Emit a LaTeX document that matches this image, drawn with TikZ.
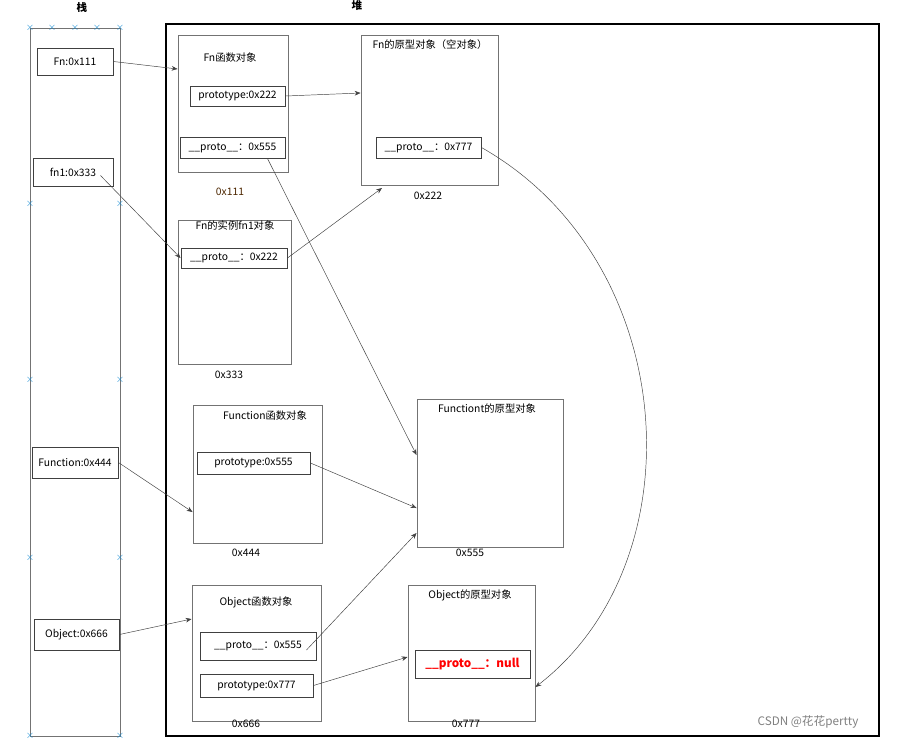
\documentclass[tikz,border=0pt]{standalone}
\usepackage{fontspec}
\setmainfont{Noto Sans CJK SC}
\usetikzlibrary{positioning}
\usetikzlibrary{arrows.meta}
\tikzset{
  field/.style={draw=black!75, thick, inner sep=0pt, font=\fontsize{8.8}{9}\selectfont},
  obj/.style={draw=black!55, thick, inner sep=0pt},
  lbl/.style={font=\fontsize{8.8}{9}\selectfont},
  link/.style={draw=black!75, -{Stealth[length=5pt,width=4pt]}},
  handle/.style={text=cyan!70!blue, font=\fontsize{9}{9}\selectfont}
}
\begin{document}
\begin{tikzpicture}[x=0.03cm,y=-0.03cm]
\useasboundingbox (0,0) rectangle (897,742);

% Stack and heap
\node[font=\fontsize{9}{9}\selectfont\bfseries] (stacktitle) at (82,7) {栈};
\node[font=\fontsize{9}{9}\selectfont\bfseries] (heaptitle) at (357,6) {堆};
\draw[black!55, thick] (30,28) rectangle (120,736);
\draw[very thick] (166,24) rectangle (879,736);
\foreach \x in {30,52,75,97,120}
  \node[handle] at (\x,28) {$\times$};
\foreach \y in {204,380,558,736}
{
  \node[handle] at (30,\y) {$\times$};
  \node[handle] at (120,\y) {$\times$};
}

% Stack entries
\node[field, minimum width=76*0.03cm, minimum height=27*0.03cm] (fn) at (75,61.5) {Fn:0x111};
\node[field, minimum width=80*0.03cm, minimum height=28*0.03cm] (fnone) at (73,172) {fn1:0x333};
\node[field, minimum width=86*0.03cm, minimum height=31*0.03cm] (func) at (75,462.5) {Function:0x444};
\node[field, minimum width=85*0.03cm, minimum height=31*0.03cm] (objref) at (76.5,634.5) {Object:0x666};

% Fn function object
\node[obj, minimum width=110*0.03cm, minimum height=137*0.03cm] (fnobj) at (233,103.5) {};
\node[lbl] (fnobjt) at (230,58) {Fn函数对象};
\node[field, minimum width=95*0.03cm, minimum height=20*0.03cm] (fnproto) at (237.5,96) {prototype:0x222};
\node[field, minimum width=105*0.03cm, minimum height=21*0.03cm] (fnpp) at (232.5,147.5) {\_\_proto\_\_：0x555};
\node[lbl, text=black!70!orange] (fnaddr) at (230,192) {0x111};

% Fn prototype
\node[obj, minimum width=137*0.03cm, minimum height=150*0.03cm] (fnpt) at (429.5,110) {};
\node[lbl] (fnptt) at (430,45) {Fn的原型对象（空对象）};
\node[field, minimum width=105*0.03cm, minimum height=21*0.03cm] (fnptpp) at (428.5,147.5) {\_\_proto\_\_：0x777};
\node[lbl] (fnptaddr) at (428,196) {0x222};

% fn1 instance
\node[obj, minimum width=113*0.03cm, minimum height=144*0.03cm] (inst) at (234.5,292) {};
\node[lbl] (instt) at (235,226) {Fn的实例fn1对象};
\node[field, minimum width=106*0.03cm, minimum height=20*0.03cm] (instpp) at (234,258) {\_\_proto\_\_：0x222};
\node[lbl] (instaddr) at (229,375) {0x333};

% Function function object
\node[obj, minimum width=129*0.03cm, minimum height=138*0.03cm] (funcobj) at (257.5,474) {};
\node[lbl] (funcobjt) at (265,416) {Function函数对象};
\node[field, minimum width=113*0.03cm, minimum height=22*0.03cm] (funcproto) at (253.5,463) {prototype:0x555};
\node[lbl] (funcaddr) at (246,553) {0x444};

% Function prototype
\node[obj, minimum width=146*0.03cm, minimum height=148*0.03cm] (funcpt) at (490,473) {};
\node[lbl] (funcptt) at (487,409) {Functiont的原型对象};
\node[lbl] (funcptaddr) at (470,553) {0x555};

% Object function object
\node[obj, minimum width=129*0.03cm, minimum height=136*0.03cm] (objf) at (256.5,653) {};
\node[lbl] (objft) at (256,602) {Object函数对象};
\node[field, minimum width=116*0.03cm, minimum height=28*0.03cm] (objfpp) at (258,646) {\_\_proto\_\_：0x555};
\node[field, minimum width=113*0.03cm, minimum height=23*0.03cm] (objfproto) at (256.5,685.5) {prototype:0x777};
\node[lbl] (objfaddr) at (246,724) {0x666};

% Object prototype
\node[obj, minimum width=127*0.03cm, minimum height=136*0.03cm] (objpt) at (471.5,653) {};
\node[lbl] (objptt) at (470,595) {Object的原型对象};
\node[field, minimum width=115*0.03cm, minimum height=28*0.03cm, text=red, font=\fontsize{10}{10}\selectfont\bfseries] (objptpp) at (472.5,664) {\_\_proto\_\_：null};
\node[lbl] (objptaddr) at (466,724) {0x777};

\node[lbl, text=black!50, font=\fontsize{10}{10}\selectfont] (wm) at (808,722) {CSDN @花花pertty};

% Links
\draw[link] (fn.east) -- (fnobj.west |- 0,69);
\draw[link] (fnproto.east) -- (fnpt.west |- 0,93);
\draw[link] (fnpp.south east) ++(-18,0) -- (funcpt.west |- 0,455);
\draw[link] (fnone.south east) ++(-13,-11) -- (instpp.west);
\draw[link] (instpp.east) -- (382,188);
\draw[link] (fnptpp.east) .. controls (680,260) and (700,560) .. (objpt.east |- 0,687);
\draw[link] (func.east) -- (funcobj.west |- 0,512);
\draw[link] (funcproto.east) -- (funcpt.west |- 0,508);
\draw[link] (objref.east) -- (objf.west |- 0,619);
\draw[link] (objfpp.east) ++(-10,4) -- (funcpt.west |- 0,533);
\draw[link] (objfproto.east) -- (objpt.west |- 0,657);
\end{tikzpicture}
\end{document}
